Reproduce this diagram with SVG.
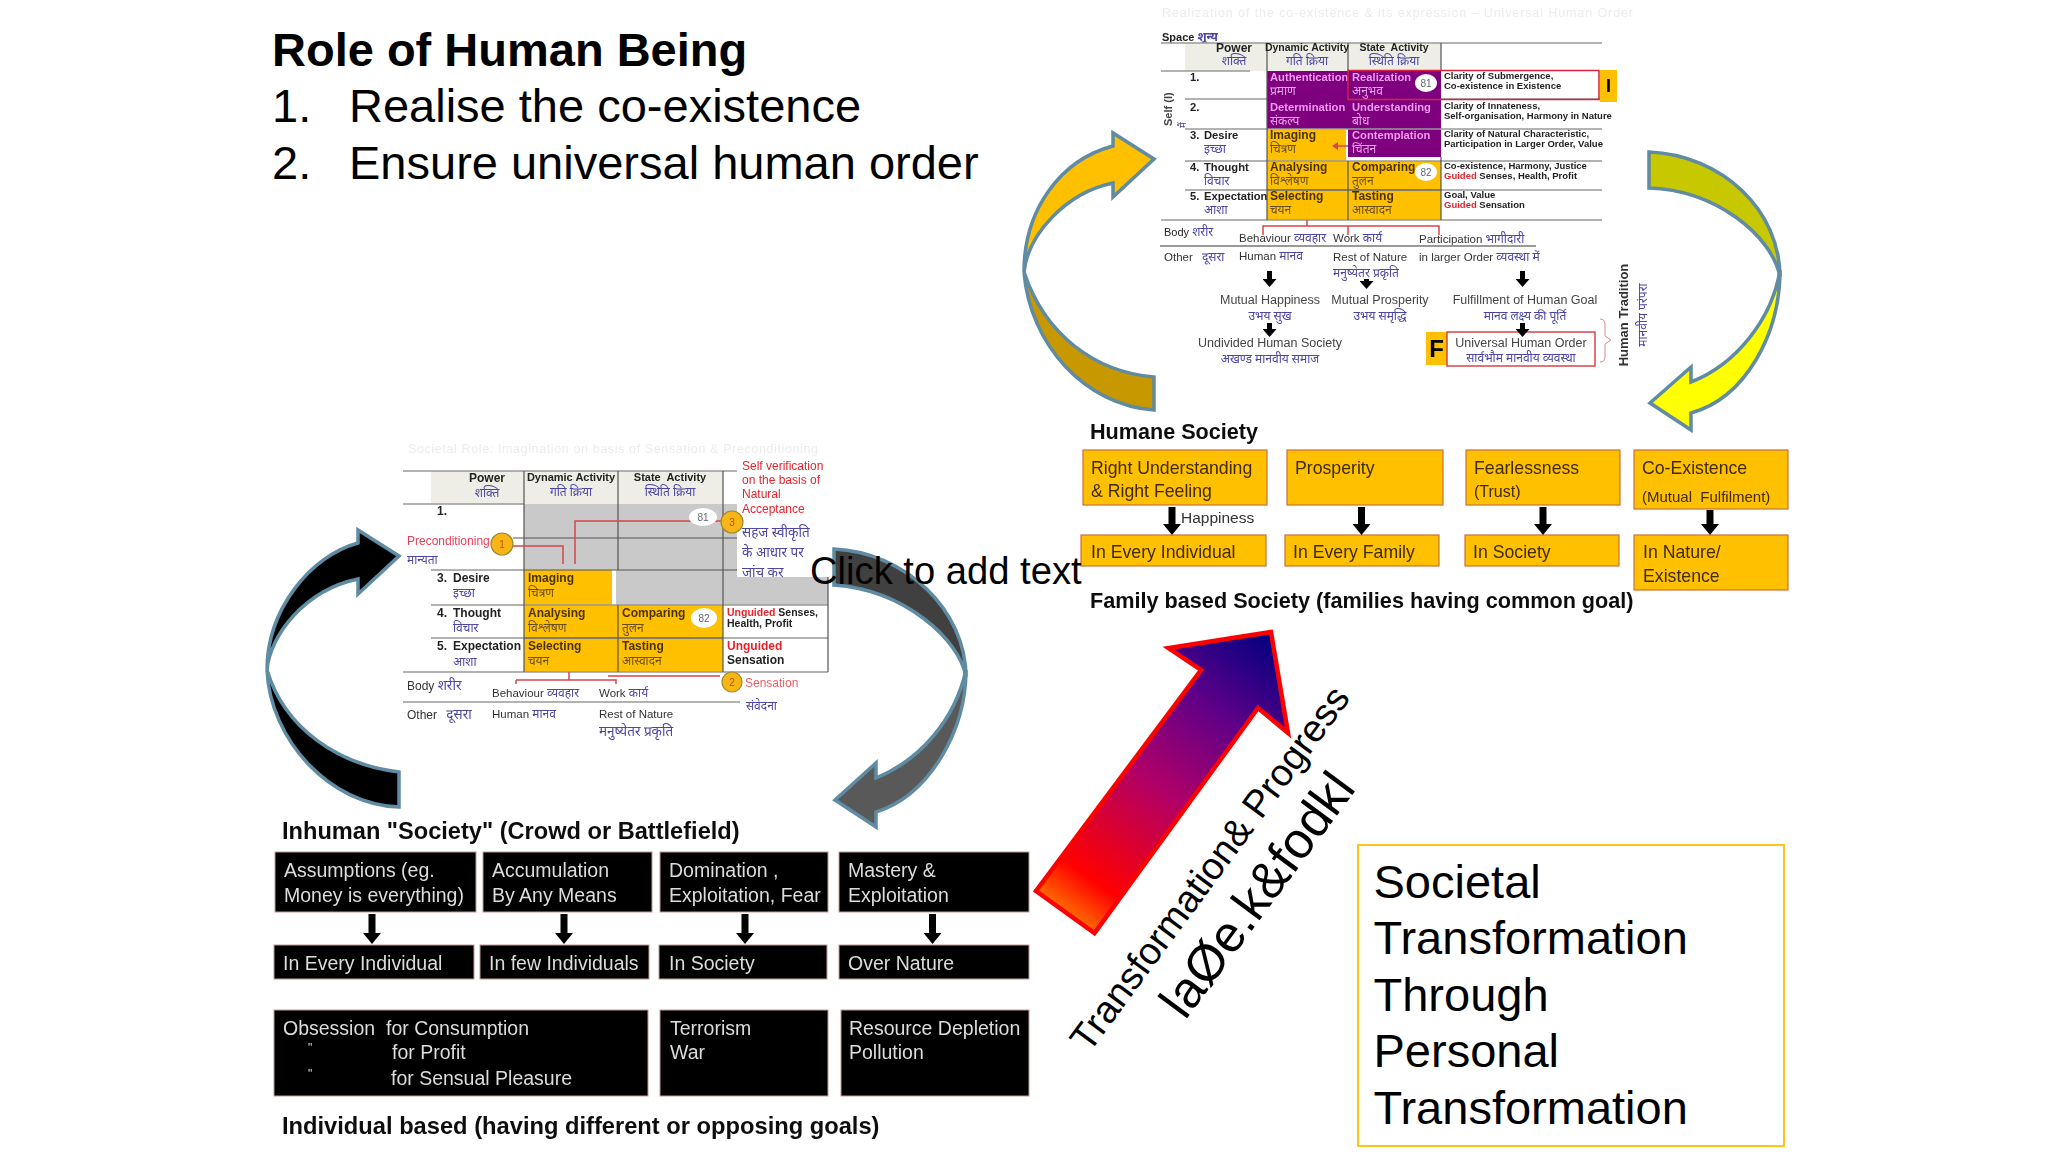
<svg xmlns="http://www.w3.org/2000/svg" width="2048" height="1152" viewBox="0 0 2048 1152">
<defs>
<filter id="soft" x="-5%" y="-5%" width="110%" height="110%"><feGaussianBlur stdDeviation="0.45"/></filter>
<linearGradient id="prog" gradientUnits="userSpaceOnUse" x1="1065" y1="912" x2="1271" y2="632">
<stop offset="0" stop-color="#ff6a00"/><stop offset="0.12" stop-color="#ff0000"/><stop offset="0.45" stop-color="#b00068"/><stop offset="0.72" stop-color="#600088"/><stop offset="1" stop-color="#000080"/>
</linearGradient>
<marker id="ah" markerUnits="userSpaceOnUse" markerWidth="18" markerHeight="18" refX="0" refY="9" orient="auto"><path d="M0 0L11 9L0 18Z" fill="#000"/></marker>
<marker id="ahs" markerUnits="userSpaceOnUse" markerWidth="14" markerHeight="14" refX="0" refY="7" orient="auto"><path d="M0 0L8 7L0 14Z" fill="#000"/></marker>
<marker id="ar" markerUnits="userSpaceOnUse" markerWidth="8" markerHeight="8" refX="0" refY="4" orient="auto"><path d="M0 0L6 4L0 8Z" fill="#d8454a"/></marker>
</defs>
<style>
text{font-family:"Liberation Sans",Arial,sans-serif;white-space:pre}
.h{font-size:47px;fill:#000}
.hb{font-weight:bold}
.big{font-size:47px;fill:#000}
.t{font-size:12px;font-weight:bold;fill:#222}
.u{font-size:11.2px}
.tn{font-size:11.5px;fill:#333}
.d{font-family:"Noto Sans Devanagari","Lohit Devanagari","Noto Sans","Noto Sans CJK SC",sans-serif;font-size:12px;fill:#4b45a5}
.ds{font-size:13.5px}
.pk{font-size:11.2px;font-weight:bold;fill:#f49af0}
.gd{font-size:12px;font-weight:bold;fill:#4a3200}
.rt{font-size:9.5px;font-weight:bold;fill:#222}
.red{fill:#e8242c}
.m{font-size:12.5px;fill:#444;text-anchor:middle}
.mid{text-anchor:middle}
.fade{font-size:12.5px;fill:#ececec}
.hd{font-weight:bold;fill:#111}
.wh{font-size:19.5px;fill:#dcdcdc}
.yl{font-size:17.7px;fill:#3f2a00}
.bk{fill:#000;stroke:#c49a9a;stroke-width:1}
.yb{fill:#ffc000;stroke:#c8703a;stroke-width:1.2}
.gl{stroke:#999;stroke-width:1.5;fill:none}
.dl{stroke:#555;stroke-width:1.2;fill:none}
.rl{stroke:#d8454a;stroke-width:1.5;fill:none}
.ca{fill:none;stroke:#000;stroke-width:7}
.ct{stroke:#5f8ba3;stroke-width:3.5;stroke-linejoin:miter}
.cir{fill:#f7b512;stroke:#a08a30;stroke-width:1.2}
.wc{fill:#fff}
.num{font-size:10px;fill:#667;text-anchor:middle}
</style>
<rect width="2048" height="1152" fill="#fff"/>

<g id="role-text">
<text class="h hb" x="272" y="65.500">Role of Human Being</text>
<text class="h" x="272" y="122">1.</text><text class="h" x="349" y="122">Realise the co-existence</text>
<text class="h" x="272" y="178.500">2.</text><text class="h" x="349" y="178.500">Ensure universal human order</text>
</g>

<g id="upper-table" filter="url(#soft)">
<text class="fade" x="1162" y="17" textLength="471">Realization of the co-existence &amp; its expression – Universal Human Order</text>
<text class="t" x="1162" y="41" style="font-size:11px">Space <tspan class="d">शून्य</tspan></text>
<rect x="1185" y="43" width="256" height="28" fill="#eeeee6"/>
<path d="M1267 71H1441V157H1348V129H1267Z" fill="#7f007f"/>
<path d="M1267 130H1346V161H1441V220H1267Z" fill="#ffc000"/>
<path class="gl" d="M1161 43H1602M1161 71H1250M1185 99H1267M1441 99H1602M1185 129H1602M1185 161H1602M1185 190H1602M1161 220H1602"/>
<path class="dl" d="M1267 43V220M1348 43V71M1348 161V220M1441 43V71M1441 157V220M1267 190H1441"/>
<text class="t mid" x="1234" y="52">Power</text><text class="d mid" x="1234" y="65">शक्ति</text>
<text class="t mid" x="1307" y="51" style="font-size:10.500px">Dynamic Activity</text><text class="d mid" x="1307" y="65">गति क्रिया</text>
<text class="t mid" x="1394" y="51" style="font-size:10.500px">State  Activity</text><text class="d mid" x="1394" y="65">स्थिति क्रिया</text>
<text class="t u" x="1190" y="81">1.</text><text class="t u" x="1190" y="111">2.</text>
<text class="t u" x="1190" y="139">3.</text><text class="t u" x="1204" y="139">Desire</text><text class="d" x="1204" y="153">इच्छा</text>
<text class="t u" x="1190" y="171">4.</text><text class="t u" x="1204" y="171">Thought</text><text class="d" x="1204" y="185">विचार</text>
<text class="t u" x="1190" y="200">5.</text><text class="t u" x="1204" y="200">Expectation</text><text class="d" x="1204" y="214">आशा</text>
<text class="pk" x="1270" y="81">Authentication</text><text class="d" x="1270" y="95" style="fill:#e8a0e8">प्रमाण</text>
<text class="pk" x="1352" y="81">Realization</text><text class="d" x="1352" y="95" style="fill:#e8a0e8">अनुभव</text>
<text class="pk" x="1270" y="111">Determination</text><text class="d" x="1270" y="125" style="fill:#e8a0e8">संकल्प</text>
<text class="pk" x="1352" y="111">Understanding</text><text class="d" x="1352" y="125" style="fill:#e8a0e8">बोध</text>
<text class="gd u" x="1270" y="139">Imaging</text><text class="d" x="1270" y="153" style="fill:#6a5020">चित्रण</text>
<text class="pk" x="1352" y="139">Contemplation</text><text class="d" x="1352" y="153" style="fill:#e8a0e8">चिंतन</text>
<text class="gd u" x="1270" y="171">Analysing</text><text class="d" x="1270" y="185" style="fill:#6a5020">विश्लेषण</text>
<text class="gd u" x="1352" y="171">Comparing</text><text class="d" x="1352" y="185" style="fill:#6a5020">तुलन</text>
<text class="gd u" x="1270" y="200">Selecting</text><text class="d" x="1270" y="214" style="fill:#6a5020">चयन</text>
<text class="gd u" x="1352" y="200">Tasting</text><text class="d" x="1352" y="214" style="fill:#6a5020">आस्वादन</text>
<text class="rt" x="1444" y="79">Clarity of Submergence,</text><text class="rt" x="1444" y="89">Co-existence in Existence</text>
<text class="rt" x="1444" y="109">Clarity of Innateness,</text><text class="rt" x="1444" y="119">Self-organisation, Harmony in Nature</text>
<text class="rt" x="1444" y="137">Clarity of Natural Characteristic,</text><text class="rt" x="1444" y="147">Participation in Larger Order, Value</text>
<text class="rt" x="1444" y="169">Co-existence, Harmony, Justice</text><text class="rt" x="1444" y="179"><tspan class="red">Guided</tspan> Senses, Health, Profit</text>
<text class="rt" x="1444" y="198">Goal, Value</text><text class="rt" x="1444" y="208"><tspan class="red">Guided</tspan> Sensation</text>
<rect x="1348" y="70.5" width="251" height="29" fill="none" stroke="#d8203c" stroke-width="1.5"/>
<rect x="1600" y="70" width="17" height="32" fill="#ffc000"/>
<text x="1608.500" y="92" class="mid" style="font-size:18px;font-weight:bold">I</text>
<ellipse class="wc" cx="1426" cy="83" rx="11" ry="9"/><text class="num" x="1426" y="87">81</text>
<ellipse class="wc" cx="1426" cy="172" rx="11" ry="9"/><text class="num" x="1426" y="176">82</text>
<text class="t" transform="translate(1172 126) rotate(-90)" style="font-size:11px;fill:#444">Self (I)</text>
<text class="d" transform="translate(1186 128) rotate(-90)" style="font-size:10px">मैं</text>
<path class="rl" d="M1348 146H1338" marker-end="url(#ar)"/>
<path class="rl" d="M1263 235V226H1439V235M1307 220V226M1348 226V235"/>
<text class="t" x="1164" y="236" style="font-size:11px;font-weight:normal">Body <tspan class="d">शरीर</tspan></text>
<text class="tn" x="1239" y="242">Behaviour <tspan class="d">व्यवहार</tspan></text>
<text class="tn" x="1333" y="242">Work <tspan class="d">कार्य</tspan></text>
<text class="tn" x="1419" y="243">Participation <tspan class="d">भागीदारी</tspan></text>
<path class="gl" d="M1160 246H1536" style="stroke-width:2"/>
<text class="tn" x="1164" y="261">Other <tspan class="d" dx="6">दूसरा</tspan></text>
<text class="tn" x="1239" y="260">Human <tspan class="d">मानव</tspan></text>
<text class="tn" x="1333" y="261">Rest of Nature</text><text class="d" x="1333" y="277">मनुष्येतर प्रकृति</text>
<text class="tn" x="1419" y="261">in larger Order <tspan class="d">व्यवस्था में</tspan></text>
<text class="m" x="1270" y="304">Mutual Happiness</text><text class="d mid" x="1270" y="320">उभय सुख</text>
<text class="m" x="1380" y="304">Mutual Prosperity</text><text class="d mid" x="1380" y="320">उभय समृद्धि</text>
<text class="m" x="1525" y="304">Fulfillment of Human Goal</text><text class="d mid" x="1525" y="320">मानव लक्ष्य की पूर्ति</text>
<text class="m" x="1270" y="347">Undivided Human Society</text><text class="d mid" x="1270" y="363">अखण्ड मानवीय समाज</text>
<rect x="1426" y="332" width="21" height="33" fill="#ffc000"/>
<text x="1436.500" y="357" class="mid" style="font-size:24px;font-weight:bold">F</text>
<rect x="1447" y="332" width="148" height="34" fill="none" stroke="#d8454a" stroke-width="1.5"/>
<text class="m" x="1521" y="347">Universal Human Order</text><text class="d mid" x="1521" y="362">सार्वभौम मानवीय व्यवस्था</text>
<path d="M1600 319Q1605 319 1605 325V336L1611 340L1605 344V357Q1605 362 1600 362" fill="none" stroke="#d88" stroke-width="1"/>
<text transform="translate(1628 315) rotate(-90)" class="mid" style="font-size:13px;font-weight:bold;fill:#333">Human Tradition</text>
<text transform="translate(1647 315) rotate(-90)" class="d mid">मानवीय परंपरा</text>
</g>

<g id="lower-table" filter="url(#soft)">
<text class="fade" x="408" y="453" textLength="410">Societal Role: Imagination on basis of Sensation &amp; Preconditioning</text>
<rect x="431" y="471" width="292" height="33" fill="#eeeee6"/>
<path d="M524 504H828V605H612V570H524Z" fill="#c9c9c9"/>
<path d="M524 570H612V605H723V672H524Z" fill="#ffc000"/>
<path d="M612 570H616V605H612Z" fill="#fff"/>
<rect x="737" y="462" width="91" height="115" fill="#fff"/>
<path class="gl" d="M403 471H737M403 504H524M431 570H524M431 605H828M431 638H828M403 672H828M403 702H740"/>
<path class="dl" d="M524 471V672M618 471V570M618 605V672M723 471V672M828 577V672M513 538H737M524 570H737M524 638H723"/>
<text class="t mid" x="487" y="482">Power</text><text class="d mid" x="487" y="497">शक्ति</text>
<text class="t mid" x="571" y="481" style="font-size:11px">Dynamic Activity</text><text class="d mid" x="571" y="496">गति क्रिया</text>
<text class="t mid" x="670" y="481" style="font-size:11px">State  Activity</text><text class="d mid" x="670" y="496">स्थिति क्रिया</text>
<text class="t" x="437" y="515">1.</text>
<text class="t red" x="407" y="545" style="font-weight:normal;fill:#e8405a">Preconditioning</text><text class="d" x="407" y="564">मान्यता</text>
<text class="t" x="437" y="582">3.</text><text class="t" x="453" y="582">Desire</text><text class="d" x="453" y="597">इच्छा</text>
<text class="t" x="437" y="617">4.</text><text class="t" x="453" y="617">Thought</text><text class="d" x="453" y="632">विचार</text>
<text class="t" x="437" y="650">5.</text><text class="t" x="453" y="650">Expectation</text><text class="d" x="453" y="666">आशा</text>
<text class="gd" x="528" y="582">Imaging</text><text class="d" x="528" y="597" style="fill:#6a5020">चित्रण</text>
<text class="gd" x="528" y="617">Analysing</text><text class="d" x="528" y="632" style="fill:#6a5020">विश्लेषण</text>
<text class="gd" x="622" y="617">Comparing</text><text class="d" x="622" y="632" style="fill:#6a5020">तुलन</text>
<text class="gd" x="528" y="650">Selecting</text><text class="d" x="528" y="665" style="fill:#6a5020">चयन</text>
<text class="gd" x="622" y="650">Tasting</text><text class="d" x="622" y="665" style="fill:#6a5020">आस्वादन</text>
<text class="t" x="727" y="616" style="font-size:10.5px"><tspan class="red">Unguided</tspan> Senses,</text><text class="t" x="727" y="627" style="font-size:10.5px">Health, Profit</text>
<text class="t red" x="727" y="650">Unguided</text><text class="t" x="727" y="664">Sensation</text>
<text class="t red" x="742" y="470" style="font-weight:normal">Self verification</text>
<text class="t red" x="742" y="484" style="font-weight:normal">on the basis of</text>
<text class="t red" x="742" y="498" style="font-weight:normal">Natural</text>
<text class="t red" x="742" y="513" style="font-weight:normal">Acceptance</text>
<text class="d ds" x="742" y="537">सहज स्वीकृति</text><text class="d ds" x="742" y="557">के आधार पर</text><text class="d ds" x="742" y="577">जांच कर</text>
<path class="rl" d="M513 546H563V564M721 521H575V564M608 676H720M569 672V680M516 680H616V684M516 680V684"/>
<ellipse class="wc" cx="703" cy="517" rx="14" ry="9"/><text class="num" x="703" y="521">81</text>
<ellipse class="wc" cx="704" cy="618" rx="13" ry="10"/><text class="num" x="704" y="622">82</text>
<circle class="cir" cx="502" cy="544" r="11"/><text class="num" x="502" y="548" style="fill:#c05000">1</text>
<circle class="cir" cx="732" cy="522" r="11"/><text class="num" x="732" y="526" style="fill:#c05000">3</text>
<circle class="cir" cx="732" cy="682" r="10"/><text class="num" x="732" y="686" style="fill:#c05000">2</text>
<text class="t red" x="745" y="687" style="font-weight:normal;fill:#e8606a">Sensation</text><text class="d" x="746" y="710">संवेदना</text>
<text class="tn" x="407" y="690" style="font-size:12px">Body <tspan class="d ds">शरीर</tspan></text>
<text class="tn" x="492" y="697">Behaviour <tspan class="d">व्यवहार</tspan></text>
<text class="tn" x="599" y="697">Work <tspan class="d">कार्य</tspan></text>
<text class="tn" x="407" y="719" style="font-size:12px">Other <tspan class="d ds" dx="6">दूसरा</tspan></text>
<text class="tn" x="492" y="718">Human <tspan class="d">मानव</tspan></text>
<text class="tn" x="599" y="718">Rest of Nature</text><text class="d ds" x="599" y="736">मनुष्येतर प्रकृति</text>
</g>

<g id="humane-society" filter="url(#soft)">
<text class="hd" x="1090" y="439" style="font-size:21.600px">Humane Society</text>
<text class="hd" x="1090" y="608" style="font-size:21.650px">Family based Society (families having common goal)</text>
</g>
<g id="h-understanding" filter="url(#soft)"><rect class="yb" x="1083" y="450" width="184" height="55"/><text class="yl" x="1091" y="474">Right Understanding</text><text class="yl" x="1091" y="497">&amp; Right Feeling</text></g>
<g id="h-prosperity" filter="url(#soft)"><rect class="yb" x="1287" y="450" width="156" height="55"/><text class="yl" x="1295" y="474">Prosperity</text></g>
<g id="h-fearlessness" filter="url(#soft)"><rect class="yb" x="1466" y="450" width="154" height="55"/><text class="yl" x="1474" y="474">Fearlessness</text><text class="yl" x="1474" y="497" style="font-size:16px">(Trust)</text></g>
<g id="h-coexistence" filter="url(#soft)"><rect class="yb" x="1634" y="450" width="154" height="59"/><text class="yl" x="1642" y="474">Co-Existence</text><text class="yl" x="1642" y="502" style="font-size:15px">(Mutual  Fulfilment)</text></g>
<g id="h-individual" filter="url(#soft)"><rect class="yb" x="1081" y="535" width="185" height="31"/><text class="yl" x="1091" y="558">In Every Individual</text></g>
<g id="h-family" filter="url(#soft)"><rect class="yb" x="1285" y="535" width="154" height="31"/><text class="yl" x="1293" y="558">In Every Family</text></g>
<g id="h-society" filter="url(#soft)"><rect class="yb" x="1465" y="535" width="154" height="31"/><text class="yl" x="1473" y="558">In Society</text></g>
<g id="h-nature" filter="url(#soft)"><rect class="yb" x="1634" y="535" width="154" height="55"/><text class="yl" x="1643" y="558">In Nature/</text><text class="yl" x="1643" y="582">Existence</text></g>
<g id="h-happiness" filter="url(#soft)"><text x="1181" y="523" style="font-size:15.500px;fill:#333">Happiness</text></g>

<g id="inhuman-society" filter="url(#soft)">
<text class="hd" x="282" y="838.500" style="font-size:23.600px">Inhuman "Society" (Crowd or Battlefield)</text>
<text class="hd" x="282" y="1134" style="font-size:23.700px">Individual based (having different or opposing goals)</text>
</g>
<g id="i-assumptions" filter="url(#soft)"><rect class="bk" x="275" y="852" width="201" height="60"/><text class="wh" x="284" y="877">Assumptions (eg.</text><text class="wh" x="284" y="902">Money is everything)</text></g>
<g id="i-accumulation" filter="url(#soft)"><rect class="bk" x="483" y="852" width="169" height="60"/><text class="wh" x="492" y="877">Accumulation</text><text class="wh" x="492" y="902">By Any Means</text></g>
<g id="i-domination" filter="url(#soft)"><rect class="bk" x="660" y="852" width="168" height="60"/><text class="wh" x="669" y="877">Domination ,</text><text class="wh" x="669" y="902">Exploitation, Fear</text></g>
<g id="i-mastery" filter="url(#soft)"><rect class="bk" x="839" y="852" width="190" height="60"/><text class="wh" x="848" y="877">Mastery &amp;</text><text class="wh" x="848" y="902">Exploitation</text></g>
<g id="i-individual" filter="url(#soft)"><rect class="bk" x="274" y="945" width="200" height="34"/><text class="wh" x="283" y="970">In Every Individual</text></g>
<g id="i-few" filter="url(#soft)"><rect class="bk" x="480" y="945" width="169" height="34"/><text class="wh" x="489" y="970">In few Individuals</text></g>
<g id="i-society" filter="url(#soft)"><rect class="bk" x="659" y="945" width="168" height="34"/><text class="wh" x="669" y="970">In Society</text></g>
<g id="i-nature" filter="url(#soft)"><rect class="bk" x="839" y="945" width="190" height="34"/><text class="wh" x="848" y="970">Over Nature</text></g>
<g id="i-obsession" filter="url(#soft)"><rect class="bk" x="274" y="1010" width="374" height="86"/><text class="wh" x="283" y="1035">Obsession  for Consumption</text><text class="wh" x="308" y="1052" style="font-size:12px">"</text><text class="wh" x="392" y="1059">for Profit</text><text class="wh" x="308" y="1078" style="font-size:12px">"</text><text class="wh" x="391" y="1085">for Sensual Pleasure</text></g>
<g id="i-terrorism" filter="url(#soft)"><rect class="bk" x="660" y="1010" width="168" height="86"/><text class="wh" x="670" y="1035">Terrorism</text><text class="wh" x="670" y="1059">War</text></g>
<g id="i-depletion" filter="url(#soft)"><rect class="bk" x="841" y="1010" width="188" height="86"/><text class="wh" x="849" y="1035">Resource Depletion</text><text class="wh" x="849" y="1059">Pollution</text></g>

<g id="connectors">
<path class="ca" style="stroke-width:5" d="M1269.500 271V279" marker-end="url(#ahs)"/>
<path class="ca" style="stroke-width:5" d="M1366.500 279V281" marker-end="url(#ahs)"/>
<path class="ca" style="stroke-width:5" d="M1522.500 271V279" marker-end="url(#ahs)"/>
<path class="ca" style="stroke-width:5" d="M1269.500 323V329" marker-end="url(#ahs)"/>
<path class="ca" style="stroke-width:5" d="M1522.500 323V329" marker-end="url(#ahs)"/>
<path class="ca" d="M1172 507V524" marker-end="url(#ah)"/>
<path class="ca" d="M1361.500 507V524" marker-end="url(#ah)"/>
<path class="ca" d="M1543 507V524" marker-end="url(#ah)"/>
<path class="ca" d="M1710 510V524" marker-end="url(#ah)"/>
<path class="ca" d="M372 914V933" marker-end="url(#ah)"/>
<path class="ca" d="M564 914V933" marker-end="url(#ah)"/>
<path class="ca" d="M745 914V933" marker-end="url(#ah)"/>
<path class="ca" d="M932.500 914V933" marker-end="url(#ah)"/>
</g>

<g id="cycle-arrows">
<path class="ct" fill="#c89800" d="M1024 272C1030 345 1085 405 1154 410V377C1095 372 1045 335 1024 272Z"/>
<path class="ct" fill="#ffc000" d="M1154 159L1113 133V146C1060 160 1024 210 1024 272C1028 235 1065 193 1113 183V197Z"/>
<path class="ct" fill="#c8c800" d="M1649 152C1722 155 1780 210 1780 277C1772 235 1715 190 1649 188Z"/>
<path class="ct" fill="#ffff00" d="M1780 270C1780 335 1745 398 1691 413V430L1650 403L1691 367V382C1735 365 1772 320 1780 270Z"/>
<path class="ct" fill="#000" d="M267 670C270 740 330 805 399 807V772C340 765 285 730 267 670Z"/>
<path class="ct" fill="#000" d="M399 556L358 530V543C310 556 267 610 267 670C270 635 305 590 358 579V594Z"/>
<path class="ct" fill="#404040" d="M834 549C905 552 966 610 966 677C960 640 905 590 834 585Z"/>
<path class="ct" fill="#595959" d="M966 670C966 730 930 795 876 812V827L835 800L876 763V778C920 760 955 720 966 670Z"/>
</g>

<text id="placeholder" x="810" y="584" style="font-size:38.200px">Click to add text</text>

<g id="progress-arrow">
<path d="M1036 891L1094.500 933L1258 708L1288 733L1271 632L1168.500 648L1201 670Z" fill="url(#prog)" stroke="#ff0000" stroke-width="4.500"/>
<text transform="translate(1089 1054) rotate(-53.600)" style="font-size:38px">Transformation&amp; Progress</text>
<text transform="translate(1185 1021) rotate(-53.500)" style="font-size:51px">laØe.k&amp;fodkl</text>
</g>

<g id="summary-box">
<rect x="1358" y="845" width="426" height="301" fill="none" stroke="#ffc000" stroke-width="1.8"/>
<text class="big" x="1373.500" y="898">Societal</text>
<text class="big" x="1373.500" y="954">Transformation</text>
<text class="big" x="1373.500" y="1011">Through</text>
<text class="big" x="1373.500" y="1067">Personal</text>
<text class="big" x="1373.500" y="1124">Transformation</text>
</g>
</svg>
